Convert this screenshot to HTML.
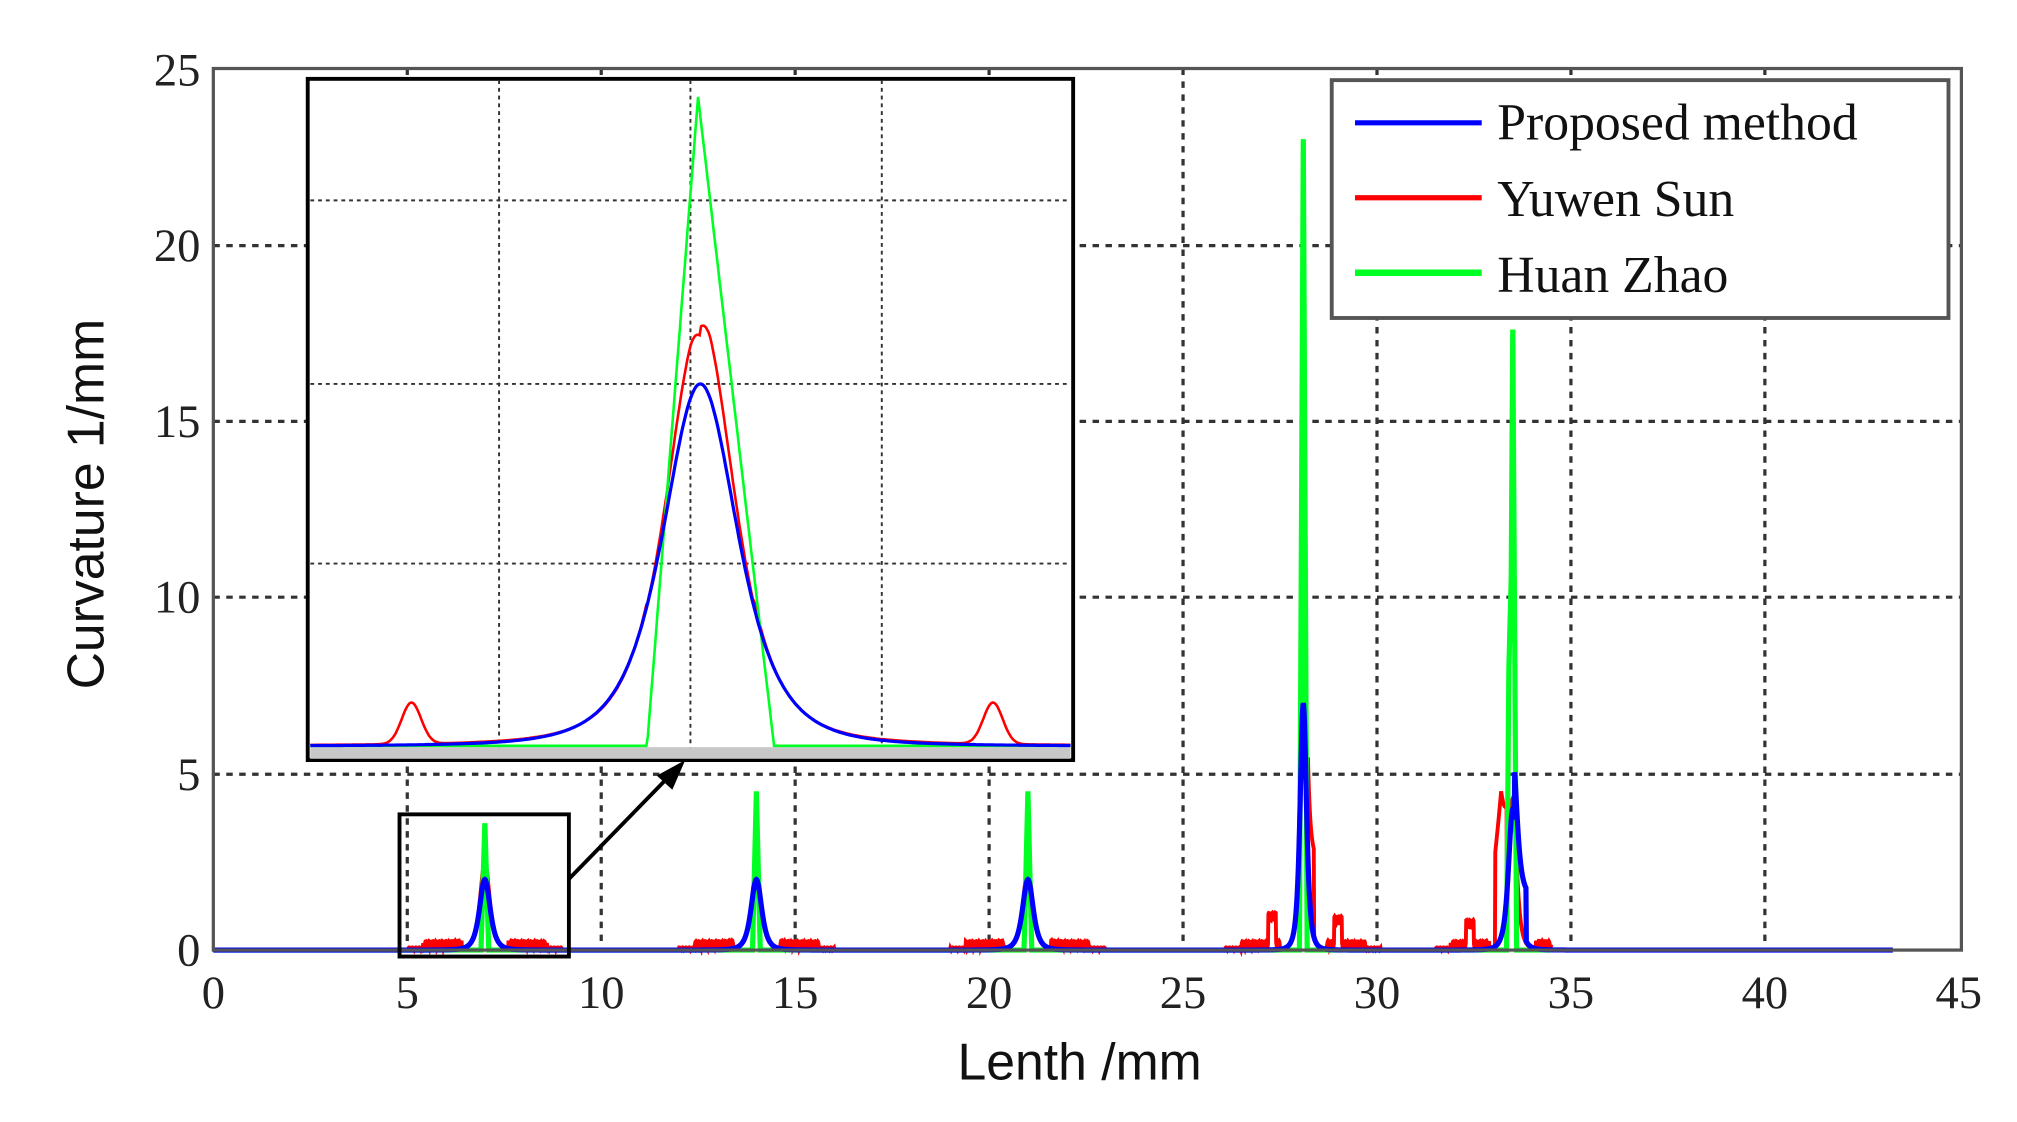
<!DOCTYPE html>
<html><head><meta charset="utf-8"><style>html,body{margin:0;padding:0;background:#fff}svg{display:block}</style></head>
<body>
<svg id="s" width="2017" height="1122" viewBox="0 0 1560 868" preserveAspectRatio="none" xmlns="http://www.w3.org/2000/svg">
<rect x="0" y="0" width="1560" height="868" fill="#fff"/>
<g id="grid" stroke="#333" stroke-width="2.5" stroke-dasharray="5,5" fill="none">
<line x1="315" y1="53" x2="315" y2="735"/><line x1="465" y1="53" x2="465" y2="735"/>
<line x1="615" y1="53" x2="615" y2="735"/><line x1="765" y1="53" x2="765" y2="735"/>
<line x1="915" y1="53" x2="915" y2="735"/><line x1="1065" y1="53" x2="1065" y2="735"/>
<line x1="1215" y1="53" x2="1215" y2="735"/><line x1="1365" y1="53" x2="1365" y2="735"/>
<line x1="165" y1="599" x2="1517" y2="599"/><line x1="165" y1="462" x2="1517" y2="462"/>
<line x1="165" y1="326" x2="1517" y2="326"/><line x1="165" y1="190" x2="1517" y2="190"/>
</g>
<g id="series" fill="none" stroke-width="3"></g>
<rect x="165" y="53" width="1352" height="682" fill="none" stroke="#555" stroke-width="2.5"/>
<g font-family="Liberation Serif, serif" font-size="36" fill="#222" text-anchor="end">
<text x="155" y="747">0</text><text x="155" y="611">5</text><text x="155" y="474">10</text>
<text x="155" y="338">15</text><text x="155" y="202">20</text><text x="155" y="66">25</text>
</g>
<g font-family="Liberation Serif, serif" font-size="36" fill="#222" text-anchor="middle">
<text x="165" y="780">0</text><text x="315" y="780">5</text><text x="465" y="780">10</text>
<text x="615" y="780">15</text><text x="765" y="780">20</text><text x="915" y="780">25</text>
<text x="1065" y="780">30</text><text x="1215" y="780">35</text><text x="1365" y="780">40</text><text x="1515" y="780">45</text>
</g>
<text x="835" y="835" font-family="Liberation Sans, sans-serif" font-size="40" text-anchor="middle" fill="#111">Lenth /mm</text>
<text transform="translate(80,390) rotate(-90)" font-family="Liberation Sans, sans-serif" font-size="40" text-anchor="middle" fill="#111">Curvature   1/mm</text>
<rect x="238" y="61" width="592" height="527" fill="#fff" stroke="#000" stroke-width="3"/>
<g stroke="#333" stroke-width="1.5" stroke-dasharray="3,3">
<line x1="386" y1="62" x2="386" y2="586"/><line x1="534" y1="62" x2="534" y2="586"/><line x1="682" y1="62" x2="682" y2="586"/>
<line x1="240" y1="155" x2="828" y2="155"/><line x1="240" y1="297" x2="828" y2="297"/><line x1="240" y1="436" x2="828" y2="436"/>
</g>
<rect x="240" y="578" width="588" height="9" fill="#c8c8c8"/>
<g id="inset" fill="none" stroke-width="2"></g>
<rect x="1030" y="62" width="477" height="184" fill="#fff" stroke="#555" stroke-width="3"/>
<line x1="1048" y1="95" x2="1146" y2="95" stroke="#00f" stroke-width="4"/>
<line x1="1048" y1="153" x2="1146" y2="153" stroke="#f00" stroke-width="4"/>
<line x1="1048" y1="211" x2="1146" y2="211" stroke="#0f2" stroke-width="5"/>
<g font-family="Liberation Serif, serif" font-size="40" fill="#111">
<text x="1158" y="108">Proposed method</text><text x="1158" y="167">Yuwen Sun</text><text x="1158" y="226">Huan Zhao</text>
</g>
<rect x="309" y="630" width="131" height="110" fill="none" stroke="#000" stroke-width="3"/>
<line x1="440" y1="680" x2="520" y2="598" stroke="#000" stroke-width="3"/>
<polygon points="530,588 508,600 520,611" fill="#000"/>
</svg>
<script>
var NS="http://www.w3.org/2000/svg";
function X(v){return 165+v*30;} function Y(v){return 735-v*27.28;}
function path(g,d,c,w){var p=document.createElementNS(NS,"path");p.setAttribute("d",d);p.setAttribute("stroke",c);if(w)p.setAttribute("stroke-width",w);g.appendChild(p);}
var peaks=[[7,3.6,2.5,2,0.25],[14,4.5,2.3,2,0.25],[21,4.5,2.3,2,0.25],[28.1,23,9.5,7,0.15],[33.5,17.6,4.3,4,0.2]];
var g=document.getElementById("series");
function curve(f,x0,x1,st){st=st||0.02;var d="";for(var x=x0;x<=x1;x+=st){d+=(d?"L":"M")+X(x).toFixed(1)+","+Y(f(x)).toFixed(1);}return d;}
function sh(d,w){return 1/Math.pow(1+d*d/(w*w),2);}
function red(x){var s=0;peaks.forEach(function(p){s+=p[2]*sh(x-p[0],p[4]*0.9);var a=Math.abs(x-p[0]);if(a>0.6&&a<2)s+=0.25*Math.abs(Math.sin(x*37))*(a<1.6?1:0.3);});
if(Math.abs(x-28.1+0.8)<0.1)s+=0.8; if(Math.abs(x-28.1-0.9)<0.1)s+=0.7; if(Math.abs(x-28.3)<0.08)s+=2.5;
if(Math.abs(x-33.2)<0.15)s+=4.2-Math.abs(x-33.2)*10; if(Math.abs(x-32.4)<0.1)s+=0.6;return s;}
function blue(x){var s=0;peaks.forEach(function(p){s+=p[3]*sh(x-p[0],p[4]);});if(Math.abs(x-33.7)<0.15)s+=1.5;return s;}
function green(x){var s=0;peaks.forEach(function(p){var t=1-Math.abs(x-p[0])/0.1;if(t>0)s+=p[1]*t;});if(Math.abs(x-33.4)<0.06)s+=8*(1-Math.abs(x-33.4)/0.06);return s;}
path(g,curve(red,0,34.5,0.01),"#f00",3);
path(g,curve(green,0,34.5,0.01),"#0f2",4);
path(g,curve(blue,0,43.3,0.01),"#00f",4);
var gi=document.getElementById("inset");
function IX(u){return 240+u*588;} function IY(v){return 577-v;}
function ic(f){var d="";for(var u=0;u<=1.0001;u+=0.002){d+=(d?"L":"M")+IX(u).toFixed(1)+","+IY(f(u)).toFixed(1);}return d;}
var c=0.513;
function ib(u){return 280*sh(u-c,0.09);}
function bump(u,m){var t=(u-m)/0.018;return 32*Math.exp(-t*t);}
function ir(u){var d=u-c;var s=(d>0?332:325)*sh(d,0.082)+4*Math.exp(-Math.abs(d)/0.25)*(Math.abs(d)>0.07?1:0);s+=bump(u,0.133)+bump(u,0.898);if(Math.abs(d)<0.012)s-=8*(1-Math.abs(d)/0.012);return s;}
function ig(u){var s=0;if(u<0.51){s=502*(u-0.443)/0.067;}else{s=502*(1-(u-0.51)/0.1);}return Math.max(0,s);}
path(gi,ic(ir),"#f00",2);
path(gi,ic(ig),"#0f2",2);
path(gi,ic(ib),"#00f",2.5);
</script>
</body></html>
